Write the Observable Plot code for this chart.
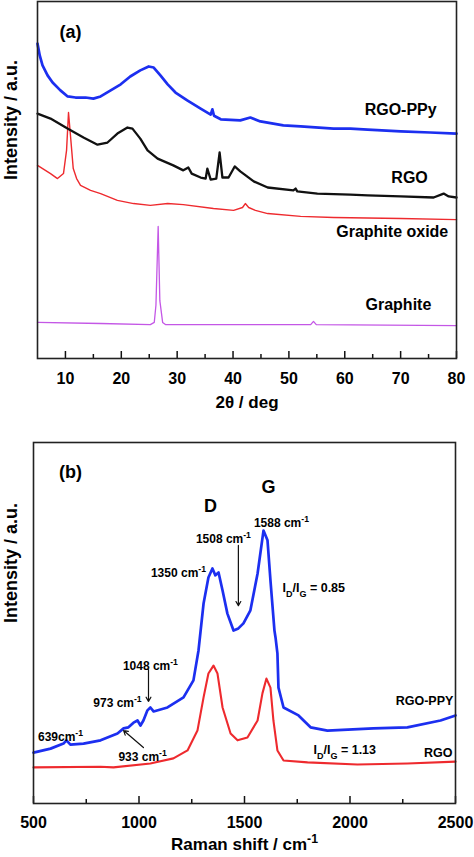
<!DOCTYPE html>
<html><head><meta charset="utf-8">
<script src="https://cdn.jsdelivr.net/npm/d3@7"></script>
<script src="https://cdn.jsdelivr.net/npm/@observablehq/plot@0.6"></script>
<style>body{margin:0;background:#fff;} #chart{width:474px;} svg{display:block;}</style>
</head><body><div id="chart"></div>
<script>
// ---------- Panel (a): XRD ----------
const xrdAngle_ppy = [5, 5.4, 5.9, 6.8, 7.7, 9.1, 10.4, 11.8, 13.6, 15.0, 16.3, 18.1, 19.9, 21.6, 23.4, 24.9, 25.8, 27.0, 28.3, 29.7, 31.8, 34.2, 36.0, 36.3, 36.6, 37.8, 41.3, 43.1, 44.9, 49.0, 52.1, 58.0, 61.0, 64.1, 70.0, 75.3, 80];
const xrdInt_ppy   = [88.2, 84.9, 82.1, 79.3, 77.3, 75.1, 73.4, 73.1, 73.1, 72.8, 73.4, 75.1, 76.8, 79.0, 80.7, 81.8, 81.5, 79.3, 76.8, 74.5, 72.3, 70.0, 68.3, 69.8, 68.0, 67.0, 66.7, 67.5, 66.4, 65.3, 65.0, 64.4, 64.4, 64.1, 63.6, 63.3, 63.0];

const xrdAngle_rgo = [5, 7.33, 10.37, 13.23, 15.74, 17.53, 19.3, 21.1, 22.0, 23.4, 24.7, 26.5, 29.3, 31.1, 32.0, 32.6, 34.2, 35.1, 35.4, 36.0, 37.0, 37.6, 38.1, 39.2, 40.3, 41.3, 43.7, 46.2, 50.8, 51.2, 51.5, 55.1, 61.0, 64.1, 70.0, 75.9, 77.7, 78.6, 80];
const xrdInt_rgo   = [68.6, 67.2, 64.4, 61.9, 59.9, 60.5, 63.0, 64.7, 64.4, 61.6, 58.3, 56.0, 54.1, 52.7, 53.5, 51.8, 50.7, 50.4, 53.2, 50.1, 50.4, 57.7, 50.7, 50.7, 53.8, 52.4, 49.6, 47.9, 47.1, 47.6, 46.8, 46.2, 45.9, 45.7, 45.4, 45.1, 46.2, 45.4, 45.1];

const xrdAngle_go = [5, 7.33, 8.58, 9.65, 10.2, 10.55, 10.9, 11.4, 12.0, 12.7, 14.5, 16.3, 19.3, 22.2, 25.2, 28.3, 31.1, 36.5, 40.1, 41.7, 42.2, 42.8, 44.0, 46.2, 52.1, 58.0, 70.0, 80];
const xrdInt_go   = [54.1, 51.8, 50.4, 51.8, 58.3, 68.9, 62.5, 53.2, 50.4, 48.5, 47.1, 46.2, 44.3, 43.4, 42.9, 43.4, 43.1, 42.0, 41.5, 42.3, 43.4, 42.3, 41.5, 40.6, 39.8, 39.5, 39.2, 38.9];

const xrdAngle_gr = [5, 16.3, 25.2, 25.9, 26.2, 26.6, 26.9, 27.4, 27.9, 43.1, 53.9, 54.4, 54.9, 80];
const xrdInt_gr   = [10.1, 9.8, 9.5, 10.1, 14.9, 37.0, 16.2, 10.1, 9.5, 9.5, 9.5, 10.4, 9.5, 9.2];

const xrdTicksMajor = [10, 20, 30, 40, 50, 60, 70, 80];
const xrdTicksMinor = [15, 25, 35, 45, 55, 65, 75];

const xrdLabels   = ["RGO-PPy", "RGO", "Graphite oxide", "Graphite"];
const xrdLabelX   = [70.0, 71.6, 68.5, 69.6];
const xrdLabelY   = [69.7, 50.7, 35.6, 15.1];

// ---------- Panel (b): Raman ----------
const ramanShift_ppy = [500, 581, 642, 656, 675, 737, 818, 898, 927, 950, 974, 993, 1007, 1021, 1040, 1054, 1069, 1135, 1211, 1258, 1282, 1306, 1329, 1348, 1362, 1377, 1396, 1419, 1448, 1471, 1495, 1528, 1562, 1590, 1609, 1623, 1642, 1647, 1656, 1661, 1685, 1756, 1813, 1893, 2111, 2272, 2429, 2500];
const ramanInt_ppy   = [14.1, 15.2, 16.6, 17.5, 16.3, 16.6, 17.5, 19.4, 20.8, 21.1, 22.4, 23.0, 21.6, 23.0, 25.8, 26.6, 25.5, 26.6, 29.4, 34.1, 42.4, 55.4, 62.6, 65.1, 63.2, 64.0, 59.0, 52.6, 47.9, 48.5, 49.9, 53.5, 63.7, 75.6, 72.9, 61.8, 47.9, 46.0, 41.6, 32.1, 26.6, 24.4, 21.1, 20.2, 20.8, 21.1, 23.0, 24.4];

const ramanShift_rgo = [500, 818, 879, 1054, 1163, 1230, 1277, 1306, 1329, 1353, 1372, 1396, 1434, 1467, 1514, 1562, 1585, 1604, 1623, 1637, 1656, 1685, 1799, 2035, 2272, 2500];
const ramanInt_rgo   = [10.0, 10.2, 10.0, 11.1, 12.5, 14.7, 20.2, 29.4, 36.0, 38.2, 36.0, 26.6, 19.4, 17.5, 18.3, 23.0, 30.5, 34.6, 32.1, 23.0, 14.7, 11.9, 11.4, 10.8, 11.1, 11.6];

const ramanTicksMajor = [500, 1000, 1500, 2000, 2500];
const ramanTicksMinor = [750, 1250, 1750, 2250];

const bandNames = ["D", "G"];
const bandX     = [1339, 1614];
const bandY     = [82.3, 87.5];

const peakLabels = ["1588 cm^{-1}", "1508 cm^{-1}", "1350 cm^{-1}", "1048 cm^{-1}", "973 cm^{-1}", "639cm^{-1}", "933 cm^{-1}"];
const peakLabelX = [1675, 1400, 1187, 1054, 898, 628, 1017];
const peakLabelY = [77.6, 73.1, 63.7, 38.0, 27.7, 18.3, 12.7];

const ratioLabels = ["I_{D}/I_{G} = 0.85", "I_{D}/I_{G} = 1.13"];
const ratioX      = [1680, 1827];
const ratioY      = [59.8, 14.7];

const ramanSeriesLabels = ["RGO-PPY", "RGO"];
const ramanSeriesX      = [2490, 2486];
const ramanSeriesY      = [28.3, 14.1];

const arrowX1 = [1471, 1045, 1021];
const arrowY1 = [71.5, 37.1, 15.5];
const arrowX2 = [1471, 1045, 927];
const arrowY2 = [54.8, 28.3, 20.2];

// ---------- helpers ----------
const zip = (xs, ys) => xs.map((x, i) => ({x, y: ys[i]}));
const FONT = "'Liberation Sans', Arial, Helvetica, sans-serif";

function richify(svg) {
  const NS = "http://www.w3.org/2000/svg";
  svg.querySelectorAll("text").forEach(t => {
    const s = t.textContent;
    if (!/[_^]\{/.test(s)) return;
    while (t.firstChild) t.removeChild(t.firstChild);
    const re = /([_^])\{([^}]*)\}|([^_^]+)/g; let m;
    while ((m = re.exec(s))) {
      const ts = document.createElementNS(NS, "tspan");
      if (m[3] !== undefined) ts.textContent = m[3];
      else {
        ts.textContent = m[2];
        ts.setAttribute("font-size", "0.72em");
        ts.setAttribute("baseline-shift", m[1] === "^" ? "super" : "sub");
      }
      t.appendChild(ts);
    }
  });
}

const chart = document.getElementById("chart");

// ---------- Panel (a) ----------
const hA = 425, mTopA = 1, mBotA = 67;
const innerA = hA - mTopA - mBotA;
const plotA = Plot.plot({
  width: 474, height: hA,
  marginLeft: 37, marginRight: 18, marginTop: mTopA, marginBottom: mBotA,
  style: {fontFamily: FONT, fontWeight: "bold", background: "#fff", color: "#000", overflow: "visible"},
  x: {domain: [5, 80], axis: null},
  y: {domain: [0, 100], axis: null},
  marks: [
    Plot.line(zip(xrdAngle_gr, xrdInt_gr), {x: "x", y: "y", stroke: "#c457e6", strokeWidth: 1.3}),
    Plot.line(zip(xrdAngle_go, xrdInt_go), {x: "x", y: "y", stroke: "#ee2a2e", strokeWidth: 1.4}),
    Plot.line(zip(xrdAngle_rgo, xrdInt_rgo), {x: "x", y: "y", stroke: "#111", strokeWidth: 2.3}),
    Plot.line(zip(xrdAngle_ppy, xrdInt_ppy), {x: "x", y: "y", stroke: "#1c2ff0", strokeWidth: 2.7}),
    Plot.tickX(xrdTicksMajor, {x: d => d, stroke: "#111", strokeWidth: 1.5, insetTop: innerA - 7}),
    Plot.tickX(xrdTicksMinor, {x: d => d, stroke: "#111", strokeWidth: 1.5, insetTop: innerA - 4}),
    Plot.frame({stroke: "#222", strokeWidth: 1.6}),
    Plot.axisX(xrdTicksMajor, {tickSize: 0, tickPadding: 14, fontSize: 16, label: null, tickFormat: d => String(d)}),
    Plot.text(["2θ / deg"], {frameAnchor: "bottom", dy: 49, fontSize: 17}),
    Plot.text(["Intensity / a.u."], {frameAnchor: "left", rotate: -90, dx: -26, fontSize: 18}),
    Plot.text(["(a)"], {frameAnchor: "top-left", lineAnchor: "middle", dx: 33, dy: 31, fontSize: 18, textAnchor: "middle"}),
    Plot.text(xrdLabels, {x: (d, i) => xrdLabelX[i], y: (d, i) => xrdLabelY[i], text: d => d, fontSize: 16})
  ]
});
richify(plotA);
chart.appendChild(plotA);

// ---------- Panel (b) ----------
const hB = 432, mTopB = 17, mBotB = 54;
const innerB = hB - mTopB - mBotB;
const plotB = Plot.plot({
  width: 474, height: hB,
  marginLeft: 33, marginRight: 19, marginTop: mTopB, marginBottom: mBotB,
  style: {fontFamily: FONT, fontWeight: "bold", background: "#fff", color: "#000", overflow: "visible"},
  x: {domain: [500, 2500], axis: null},
  y: {domain: [0, 100], axis: null},
  marks: [
    Plot.line(zip(ramanShift_rgo, ramanInt_rgo), {x: "x", y: "y", stroke: "#ee2a2e", strokeWidth: 2.1}),
    Plot.line(zip(ramanShift_ppy, ramanInt_ppy), {x: "x", y: "y", stroke: "#1c2ff0", strokeWidth: 2.7}),
    Plot.tickX(ramanTicksMajor, {x: d => d, stroke: "#111", strokeWidth: 1.5, insetTop: innerB - 7}),
    Plot.tickX(ramanTicksMinor, {x: d => d, stroke: "#111", strokeWidth: 1.5, insetTop: innerB - 4}),
    Plot.frame({stroke: "#222", strokeWidth: 1.6}),
    Plot.axisX(ramanTicksMajor, {tickSize: 0, tickPadding: 13, fontSize: 16, label: null, tickFormat: d => String(d)}),
    Plot.text(["Raman shift / cm^{-1}"], {frameAnchor: "bottom", dy: 46, fontSize: 17}),
    Plot.text(["Intensity / a.u."], {frameAnchor: "left", rotate: -90, dx: -22, fontSize: 18}),
    Plot.text(["(b)"], {frameAnchor: "top-left", lineAnchor: "middle", dx: 37, dy: 30, fontSize: 18, textAnchor: "middle"}),
    Plot.text(bandNames, {x: (d, i) => bandX[i], y: (d, i) => bandY[i], text: d => d, fontSize: 18}),
    Plot.text(peakLabels, {x: (d, i) => peakLabelX[i], y: (d, i) => peakLabelY[i], text: d => d, fontSize: 12}),
    Plot.text(ratioLabels, {x: (d, i) => ratioX[i], y: (d, i) => ratioY[i], text: d => d, fontSize: 12.5, textAnchor: "start"}),
    Plot.text(ramanSeriesLabels, {x: (d, i) => ramanSeriesX[i], y: (d, i) => ramanSeriesY[i], text: d => d, fontSize: 12.5, textAnchor: "end"}),
    Plot.arrow(arrowX1, {x1: d => d, y1: (d, i) => arrowY1[i], x2: (d, i) => arrowX2[i], y2: (d, i) => arrowY2[i], stroke: "#111", strokeWidth: 1.2, headLength: 6})
  ]
});
richify(plotB);
chart.appendChild(plotB);
</script></body></html>
